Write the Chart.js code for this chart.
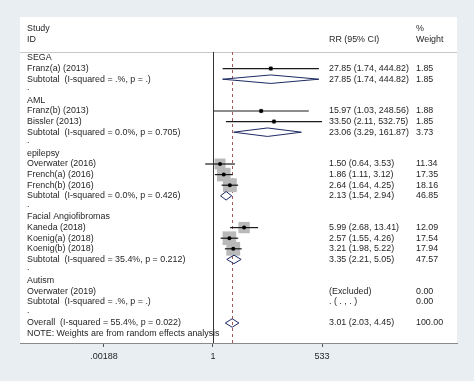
<!DOCTYPE html>
<html><head><meta charset="utf-8">
<script src="https://cdn.jsdelivr.net/npm/chart.js@4"></script>
<style>html,body{margin:0;padding:0;background:#e9eef2;overflow:hidden}#wrap{width:474px;height:381px}</style>
</head><body><div id="wrap"><canvas id="c" width="474" height="381"></canvas></div>
<script>
// ---- data ----
const groupNames = ["SEGA", "AML", "epilepsy", "Facial Angiofibromas", "Autism"];
const groupStudies = [[0], [1, 2], [3, 4, 5], [6, 7, 8], [9]];
const studyNames = ["Franz(a) (2013)", "Franz(b) (2013)", "Bissler (2013)", "Overwater (2016)", "French(a) (2016)", "French(b) (2016)", "Kaneda (2018)", "Koenig(a) (2018)", "Koenig(b) (2018)", "Overwater (2019)"];
const studyRR = [27.85, 15.97, 33.50, 1.50, 1.86, 2.64, 5.99, 2.57, 3.21, null];
const studyLo = [1.74, 1.03, 2.11, 0.64, 1.11, 1.64, 2.68, 1.55, 1.98, null];
const studyHi = [444.82, 248.56, 532.75, 3.53, 3.12, 4.25, 13.41, 4.26, 5.22, null];
const studyWeight = [1.85, 1.88, 1.85, 11.34, 17.35, 18.16, 12.09, 17.54, 17.94, 0.00];
const subRR = [27.85, 23.06, 2.13, 3.35, null];
const subLo = [1.74, 3.29, 1.54, 2.21, null];
const subHi = [444.82, 161.87, 2.94, 5.05, null];
const subWeight = [1.85, 3.73, 46.85, 47.57, 0.00];
const subI2 = [".", "0.0", "0.0", "35.4", "."];
const subP = [".", "0.705", "0.426", "0.212", "."];
const overallRR = 3.01, overallLo = 2.03, overallHi = 4.45, overallWeight = 100.00;
const overallI2 = "55.4", overallP = "0.022";
const tickValues = [0.00188, 1, 533];
const tickLabels = [".00188", "1", "533"];
const noteText = "NOTE: Weights are from random effects analysis";

// ---- build rows ----
const rows = [];
const fmtCI = (rr, lo, hi) => rr.toFixed(2) + " (" + lo.toFixed(2) + ", " + hi.toFixed(2) + ")";
groupNames.forEach((g, gi) => {
  rows.push({left: g, kind: "head"});
  groupStudies[gi].forEach(si => {
    const rr = studyRR[si];
    rows.push({left: studyNames[si], kind: "study", rr: rr, lo: studyLo[si], hi: studyHi[si], w: studyWeight[si],
      right: rr == null ? "(Excluded)" : fmtCI(rr, studyLo[si], studyHi[si]), weight: studyWeight[si].toFixed(2)});
  });
  const rr = subRR[gi];
  rows.push({left: "Subtotal  (I-squared = " + subI2[gi] + "%, p = " + subP[gi] + ")", kind: "sub", rr: rr, lo: subLo[gi], hi: subHi[gi],
    right: rr == null ? ". ( . , . )" : fmtCI(rr, subLo[gi], subHi[gi]), weight: subWeight[gi].toFixed(2)});
  rows.push({left: ".", kind: "dot"});
});
rows.push({left: "Overall  (I-squared = " + overallI2 + "%, p = " + overallP + ")", kind: "sub", rr: overallRR, lo: overallLo, hi: overallHi,
  right: fmtCI(overallRR, overallLo, overallHi), weight: overallWeight.toFixed(2)});
rows.push({left: noteText, kind: "note"});

// ---- datasets ----
const datasets = [];
const boxData = [], dotData = [];
rows.forEach((r, i) => {
  if (r.kind === "study" && r.rr != null) {
    boxData.push({x: r.rr, y: i, w: r.w});
    dotData.push({x: r.rr, y: i});
    datasets.push({type: "scatter", showLine: true, data: [{x: r.lo, y: i}, {x: r.hi, y: i}],
      borderColor: "#1a1a1a", borderWidth: 1.2, pointRadius: 0, order: 2});
  }
  if (r.kind === "sub" && r.rr != null) {
    const h = 0.4;
    datasets.push({type: "scatter", showLine: true, tension: 0,
      data: [{x: r.lo, y: i}, {x: r.rr, y: i - h}, {x: r.hi, y: i}, {x: r.rr, y: i + h}, {x: r.lo, y: i}],
      borderColor: "#1c2a63", borderWidth: 1, pointRadius: 0, order: 2});
  }
});
datasets.push({type: "scatter", data: boxData, pointStyle: "rect",
  pointRadius: boxData.map(d => 2.3 * Math.sqrt(d.w)), backgroundColor: "#b9b9b9", borderWidth: 0, order: 5});
datasets.push({type: "scatter", data: dotData, pointStyle: "circle", pointRadius: 2,
  backgroundColor: "#000", borderColor: "#000", borderWidth: 0, order: 1});

const rowStep = 10.6;
const yMin = -6 / rowStep, yMax = yMin + 291 / rowStep;
const pxPerLn = 17.37;
const xMin = Math.exp((20 - 213) / pxPerLn), xMax = Math.exp((457 - 213) / pxPerLn);

const FONT = '8.9px "Liberation Sans", Arial, sans-serif';
const TXT = "#262626";

const forestPlugin = {
  id: "forest",
  beforeDraw(chart) {
    const ctx = chart.ctx, a = chart.chartArea;
    ctx.save();
    ctx.fillStyle = "#ffffff";
    ctx.fillRect(a.left, 17, a.right - a.left, a.bottom - 17);
    ctx.restore();
  },
  beforeDatasetsDraw(chart) {
    const ctx = chart.ctx, a = chart.chartArea, xs = chart.scales.x;
    ctx.save();
    ctx.strokeStyle = "#c8c8c8"; ctx.lineWidth = 1;
    ctx.beginPath(); ctx.moveTo(a.left, a.top + 0.5); ctx.lineTo(a.right, a.top + 0.5); ctx.stroke();
    const x1 = Math.round(xs.getPixelForValue(1)) + 0.5;
    ctx.strokeStyle = "#333"; ctx.beginPath(); ctx.moveTo(x1, a.top); ctx.lineTo(x1, a.bottom); ctx.stroke();
    const xo = Math.round(xs.getPixelForValue(overallRR)) + 0.5;
    ctx.strokeStyle = "#a05a5a"; ctx.setLineDash([3, 3]);
    ctx.beginPath(); ctx.moveTo(xo, a.top); ctx.lineTo(xo, a.bottom); ctx.stroke();
    ctx.restore();
  },
  afterDraw(chart) {
    const ctx = chart.ctx, ys = chart.scales.y;
    ctx.save();
    ctx.font = FONT; ctx.fillStyle = TXT; ctx.textBaseline = "middle"; ctx.textAlign = "left";
    const L = 27, C = 329, W = 416;
    ctx.fillText("Study", L, 29); ctx.fillText("ID", L, 40);
    ctx.fillText("RR (95% CI)", C, 40);
    ctx.fillText("%", W, 29); ctx.fillText("Weight", W, 40);
    rows.forEach((r, i) => {
      const y = ys.getPixelForValue(i);
      ctx.fillText(r.left, L, r.kind === "dot" ? y - 2 : y);
      if (r.right) ctx.fillText(r.right, C, y);
      if (r.weight) ctx.fillText(r.weight, W, y);
    });
    ctx.restore();
  }
};

new Chart(document.getElementById("c"), {
  type: "scatter",
  data: {datasets: datasets},
  options: {
    responsive: false, animation: false, devicePixelRatio: 1,
    layout: {padding: {left: 20, right: 17, top: 52, bottom: 15.2}},
    plugins: {legend: {display: false}, tooltip: {enabled: false}},
    scales: {
      x: {
        type: "logarithmic", min: xMin, max: xMax, bounds: "data",
        afterBuildTicks: (s) => { s.ticks = tickValues.map(v => ({value: v})); },
        ticks: {
          autoSkip: false, maxRotation: 0, padding: 4, color: TXT,
          font: {family: '"Liberation Sans", Arial, sans-serif', size: 9},
          callback: (v) => { const k = tickValues.indexOf(v); return k >= 0 ? tickLabels[k] : ""; }
        },
        grid: {display: true, drawOnChartArea: false, drawTicks: true, tickLength: 4, tickColor: "#555"},
        border: {display: true, color: "#8a8a8a", width: 1}
      },
      y: {type: "linear", reverse: true, min: yMin, max: yMax, display: false}
    }
  },
  plugins: [forestPlugin]
});
</script></body></html>
